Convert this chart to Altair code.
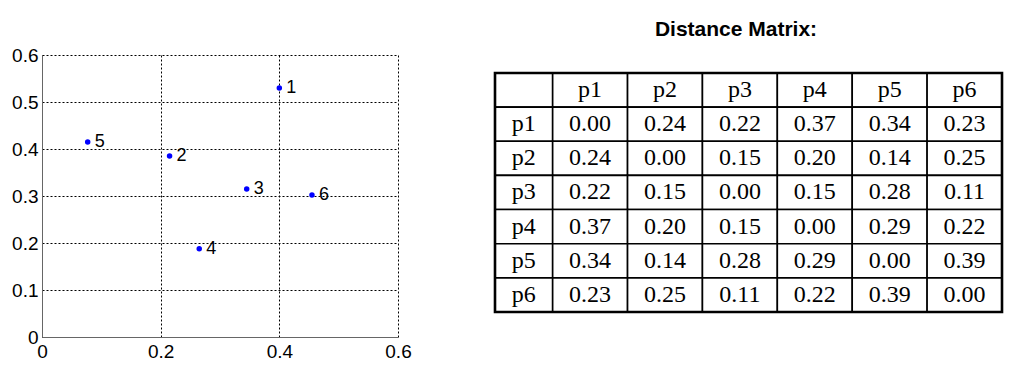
import altair as alt
import pandas as pd

# ---- data ----
point_ids = ["1", "2", "3", "4", "5", "6"]
point_x = [0.400, 0.215, 0.345, 0.265, 0.077, 0.455]
point_y = [0.530, 0.385, 0.315, 0.188, 0.415, 0.302]
x_ticks = [0, 0.2, 0.4, 0.6]
y_ticks = [0, 0.1, 0.2, 0.3, 0.4, 0.5, 0.6]

row_names = ["p1", "p2", "p3", "p4", "p5", "p6"]
dist = [
    [0.00, 0.24, 0.22, 0.37, 0.34, 0.23],
    [0.24, 0.00, 0.15, 0.20, 0.14, 0.25],
    [0.22, 0.15, 0.00, 0.15, 0.28, 0.11],
    [0.37, 0.20, 0.15, 0.00, 0.29, 0.22],
    [0.34, 0.14, 0.28, 0.29, 0.00, 0.39],
    [0.23, 0.25, 0.11, 0.22, 0.39, 0.00],
]
table_title = "Distance Matrix:"

# ---- scatter ----
pts = pd.DataFrame({"x": point_x, "y": point_y, "label": point_ids})

def ax(values, pad=5):
    return alt.Axis(values=values, format=".1~f", grid=True, gridDash=[2, 2],
                    gridColor="black", gridOpacity=1, gridWidth=1,
                    domainColor="#666666", domainWidth=1, ticks=False,
                    labelFlush=False, labelPadding=pad, labelFont="Liberation Sans",
                    labelFontSize=19, labelColor="black", title=None)

xs = alt.X("x:Q", scale=alt.Scale(domain=[0, 0.6], nice=False, zero=False), axis=ax(x_ticks, pad=5))
ys = alt.Y("y:Q", scale=alt.Scale(domain=[0, 0.6], nice=False, zero=False), axis=ax(y_ticks, pad=4))

dots = alt.Chart(pts).mark_circle(size=30, color="#0000ff", opacity=1).encode(x=xs, y=ys)
lbls = alt.Chart(pts).mark_text(align="left", baseline="middle", dx=7, font="Liberation Sans",
                                fontSize=18, color="black").encode(x=xs, y=ys, text="label:N")
scatter = alt.layer(dots, lbls).properties(width=356, height=282)

# ---- table ----
first_w = 0.77
n = len(row_names)
cells = []
for r in range(n + 1):
    for c in range(n + 1):
        x0 = 0 if c == 0 else first_w + (c - 1)
        x1 = first_w if c == 0 else first_w + c
        if r == 0:
            txt = "" if c == 0 else row_names[c - 1]
        else:
            txt = row_names[r - 1] if c == 0 else f"{dist[r - 1][c - 1]:.2f}"
        cells.append({"x0": x0, "x1": x1, "y0": r, "y1": r + 1,
                      "xm": (x0 + x1) / 2, "ym": r + 0.5, "txt": txt})
cdf = pd.DataFrame(cells)

tx = alt.Scale(domain=[0, first_w + n], nice=False, zero=False)
ty = alt.Scale(domain=[-0.527, 7.733], nice=False, zero=False, reverse=True)

rects = alt.Chart(cdf).mark_rect(fill="white", stroke="black", strokeWidth=1.6).encode(
    x=alt.X("x0:Q", scale=tx, axis=None), x2="x1", y=alt.Y("y0:Q", scale=ty, axis=None), y2="y1")
outer = alt.Chart(pd.DataFrame({"x0": [0], "x1": [first_w + n], "y0": [0], "y1": [n + 1]})).mark_rect(
    fillOpacity=0, stroke="black", strokeWidth=2.6).encode(
    x=alt.X("x0:Q", scale=tx, axis=None), x2="x1", y=alt.Y("y0:Q", scale=ty, axis=None), y2="y1")
txt_c = alt.Chart(cdf).mark_text(font="Liberation Serif", fontSize=24, color="black",
                                 baseline="middle", align="center").encode(
    x=alt.X("xm:Q", scale=tx, axis=None), y=alt.Y("ym:Q", scale=ty, axis=None), text="txt:N")
title = alt.Chart(pd.DataFrame({"t": [table_title]})).mark_text(
    font="Liberation Sans", fontWeight="bold", fontSize=21, color="black",
    align="center", baseline="middle").encode(x=alt.value(241), y=alt.value(-25), text="t:N")

table = alt.layer(rects, outer, txt_c, title).properties(width=507, height=282)

chart = alt.hconcat(scatter, table, spacing=97, bounds="flush").configure_view(stroke=None).properties(
    padding={"left": 3, "top": 11, "right": 0, "bottom": 0})

chart.save("out.html", embed_options={"renderer": "svg", "actions": False})
